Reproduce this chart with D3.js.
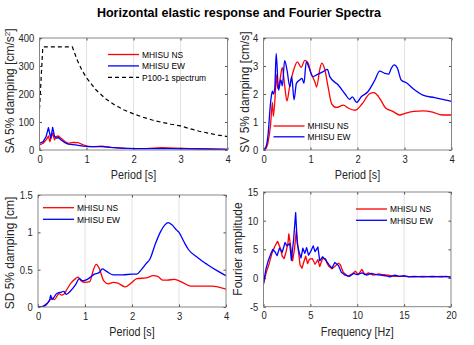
<!DOCTYPE html>
<html><head><meta charset="utf-8">
<script src="https://cdn.jsdelivr.net/npm/d3@7"></script>
<style>body{margin:0;background:#fff}svg{display:block}</style>
</head><body><svg id="c" width="474" height="345"></svg>
<script>
// ---------------- data ----------------
const titleText = "Horizontal elastic response and Fourier Spectra";
const seriesNames = ["MHISU NS", "MHISU EW", "P100-1 spectrum"];

const periodTicks = [0, 1, 2, 3, 4];
const freqTicks = [0, 5, 10, 15, 20];
const saTicks = [0, 100, 200, 300, 400];
const svTicks = [0, 1, 2, 3, 4];
const sdTicks = [0, 0.5, 1, 1.5];
const faTicks = [-5, 0, 5, 10, 15];

// SA [cm/s^2]
const saNS_T = [0,0.08,0.15,0.19,0.22,0.26,0.28,0.32,0.35,0.4,0.46,0.54,0.61,0.72,0.83,0.93,1.04,1.18,1.32,1.54,1.82,2.25,2.6,2.88,3.24,3.59,4.0];
const saNS   = [18,24,38,50,30,50,60,36,48,50,42,30,24,27,26,18,12,12,14,9.5,6,5,8,7,5,3.5,2.5];
const saEW_T = [0,0.08,0.14,0.19,0.24,0.28,0.32,0.37,0.4,0.46,0.54,0.61,0.76,0.93,1.11,1.32,1.5,1.75,2.03,2.74,3.45,4.0];
const saEW   = [24,30,48,80,42,81,48,42,45,36,26,21,18,14,12,12,9.5,7,5,5,3.5,2.4];
const p100_T = [0,0.07,0.7,0.8,0.9,1.0,1.2,1.4,1.6,1.8,2.0,2.2,2.4,2.6,2.8,3.0,3.2,3.4,3.6,3.8,4.0];
const p100   = [147,368,368,322,286,258,215,184,161,143,129,117,107,99,92,86,76,67,60,53,48];

// SV [cm/s]
const svNS_T = [0,0.05,0.1,0.15,0.19,0.21,0.25,0.27,0.3,0.35,0.4,0.45,0.5,0.55,0.6,0.65,0.72,0.8,0.88,0.95,1.0,1.1,1.13,1.2,1.24,1.3,1.38,1.45,1.55,1.7,1.8,1.95,2.1,2.25,2.35,2.45,2.6,2.75,2.9,3.0,3.2,3.4,3.6,3.8,4.0];
const svNS   = [0,0.05,0.3,0.9,1.7,1.2,2.0,2.7,2.2,2.5,2.95,2.3,1.75,2.2,2.6,2.9,3.15,2.95,3.2,3.1,2.8,2.4,2.25,2.9,3.1,2.9,2.2,1.65,1.52,1.6,1.5,1.42,1.65,2.0,2.05,1.9,1.5,1.38,1.25,1.3,1.38,1.4,1.35,1.25,1.25];
const svEW_T = [0,0.05,0.1,0.14,0.17,0.19,0.21,0.24,0.27,0.32,0.37,0.4,0.45,0.5,0.56,0.6,0.65,0.7,0.77,0.82,0.86,0.91,0.96,1.05,1.15,1.27,1.36,1.41,1.59,1.74,1.83,1.89,1.98,2.08,2.22,2.37,2.47,2.58,2.66,2.72,2.78,2.85,2.93,3.04,3.22,3.39,3.64,4.0];
const svEW   = [0,0.1,0.6,1.5,1.96,2.1,2.0,2.2,3.45,2.14,2.5,2.29,3.19,2.86,2.26,2.62,1.79,2.38,2.5,2.56,2.38,3.15,2.98,2.62,2.7,2.8,2.88,2.62,2.32,1.99,1.81,1.9,1.7,1.9,2.08,2.5,2.82,2.74,2.71,2.92,3.04,2.92,2.5,2.4,2.14,1.96,1.87,1.74];

// SD [cm]
const sdNS_T = [0,0.1,0.2,0.3,0.35,0.45,0.5,0.55,0.6,0.7,0.8,0.85,0.92,1.0,1.1,1.18,1.24,1.3,1.4,1.5,1.6,1.7,1.85,2.0,2.1,2.3,2.45,2.55,2.65,2.75,2.9,3.0,3.1,3.25,3.5,3.7,4.0];
const sdNS   = [0,0,0.05,0.12,0.1,0.18,0.16,0.17,0.22,0.32,0.38,0.4,0.35,0.33,0.34,0.5,0.57,0.52,0.35,0.31,0.33,0.32,0.27,0.33,0.38,0.39,0.42,0.41,0.36,0.36,0.37,0.35,0.32,0.28,0.28,0.28,0.24];
const sdEW_T = [0,0.1,0.2,0.25,0.27,0.3,0.35,0.4,0.5,0.55,0.6,0.7,0.8,0.88,0.95,1.05,1.2,1.3,1.37,1.45,1.6,1.8,2.0,2.1,2.2,2.3,2.38,2.5,2.6,2.7,2.77,2.85,2.95,3.0,3.1,3.2,3.4,3.6,3.8,4.0];
const sdEW   = [0,0.01,0.05,0.1,0.16,0.1,0.14,0.18,0.2,0.21,0.17,0.22,0.3,0.38,0.35,0.37,0.44,0.46,0.51,0.48,0.43,0.43,0.44,0.44,0.5,0.58,0.64,0.85,1.0,1.1,1.13,1.1,1.03,1.0,0.88,0.77,0.66,0.57,0.49,0.42];

// Fourier amplitude
const faNS_f = [0,0.3,0.6,0.9,1.2,1.5,1.8,2.0,2.2,2.4,2.6,2.7,2.9,3.1,3.3,3.5,3.7,3.9,4.1,4.3,4.5,4.7,4.9,5.2,5.5,5.8,6.0,6.3,6.6,6.8,7.0,7.3,7.6,8.0,8.2,8.5,9.0,9.5,9.8,10.1,10.5,10.8,11.2,11.7,12.2,12.7,13.3,14,15,16,17,18,19,20];
const faNS   = [-1,1,2.5,4.3,5.5,6.4,5.2,3.8,3.4,4.5,6.0,7.7,5.5,3.0,5,8.2,5,2.3,1.7,2.8,3.8,2.5,3.3,3.4,2.4,3.2,2.0,3.4,3.4,2.5,2.0,1.6,2.0,2.6,2.3,1.0,0.3,0.8,1.2,0.6,1.5,0.6,0.9,0.5,0.7,0.6,0.5,0.3,0.3,0.2,0.3,0.2,0.3,0.2];
const faEW_f = [0,0.25,0.5,0.8,1.0,1.25,1.45,1.7,2.0,2.3,2.5,2.8,2.97,3.2,3.43,3.6,3.8,4.0,4.2,4.4,4.6,4.8,5.0,5.3,5.5,5.8,6.0,6.3,6.6,7.0,7.3,7.6,8.0,8.3,8.7,9.2,9.6,10,10.5,11,11.5,12,12.5,13,13.5,14,14.5,15,15.5,16,17,18,19,19.5,20];
const faEW   = [-1,1.5,3,4.3,5,4.5,3.9,5.2,4.5,6.2,5.6,6.0,3.1,6.5,11.4,6,4.5,3.5,5.2,4.3,5.3,4.0,4.5,5.6,4.6,5.4,3.0,3.7,3.2,2.3,1.7,2.7,2.2,1.0,0.5,0.3,0.8,0.6,0.9,0.5,0.8,0.6,0.5,0.4,0.2,0.5,0.3,0.4,0.2,0.3,0.2,0.3,0.2,0.3,0.1];

// ---------------- drawing ----------------
const FONT = "'Liberation Sans', Arial, Helvetica, sans-serif";
const SQ = 0.86;            // horizontal text compression seen in the reference
const RED = "#ff0000", BLUE = "#0000ff", TXT = "#262626";
const svg = d3.select("#c");

svg.append("text")
  .attr("x", 239).attr("y", 17).attr("text-anchor", "middle")
  .attr("font-family", FONT).attr("font-size", 12.5).attr("font-weight", "bold")
  .attr("fill", "#000").text(titleText);

function panel(cfg) {
  const { l, r, t, b } = cfg.box;
  const x = d3.scaleLinear().domain(cfg.xDomain).range([l, r]);
  const y = d3.scaleLinear().domain(cfg.yDomain).range([b, t]);
  const g = svg.append("g");
  const fmt = d => String(d);

  // vertical grid
  g.append("g").selectAll("line")
    .data(cfg.xTicks.filter(d => d > cfg.xDomain[0] && d < cfg.xDomain[1]))
    .join("line")
    .attr("x1", d => x(d)).attr("x2", d => x(d)).attr("y1", t).attr("y2", b)
    .attr("stroke", "#e2e2e2").attr("stroke-width", 1);

  // clip
  const cid = "clip" + cfg.id;
  svg.append("clipPath").attr("id", cid).append("rect")
    .attr("x", l).attr("y", t).attr("width", r - l).attr("height", b - t);

  // series
  const data = g.append("g").attr("clip-path", `url(#${cid})`);
  cfg.series.forEach(s => {
    const pts = d3.zip(s.x, s.y);
    data.append("path").datum(pts)
      .attr("fill", "none").attr("stroke", s.color)
      .attr("stroke-width", s.width || 1.3)
      .attr("stroke-linejoin", "round")
      .attr("stroke-dasharray", s.dash || null)
      .attr("d", d3.line().x(d => x(d[0])).y(d => y(d[1])).curve(s.curve || d3.curveLinear));
  });

  // axes
  const ax = (gen, tr) => {
    const a = g.append("g").attr("transform", tr).call(gen);
    a.select(".domain").remove();
    a.selectAll(".tick line").attr("stroke", TXT).attr("stroke-width", 0.8);
    a.selectAll("text").attr("font-family", FONT).attr("font-size", 11).attr("fill", TXT)
      .attr("transform", `scale(${SQ},1)`);
    return a;
  };
  ax(d3.axisBottom(x).tickValues(cfg.xTicks).tickFormat(fmt).tickSizeInner(-2.5).tickSizeOuter(0).tickPadding(5), `translate(0,${b})`);
  ax(d3.axisTop(x).tickValues(cfg.xTicks).tickFormat("").tickSizeInner(-2.5).tickSizeOuter(0), `translate(0,${t})`);
  ax(d3.axisLeft(y).tickValues(cfg.yTicks).tickFormat(fmt).tickSizeInner(-2.5).tickSizeOuter(0).tickPadding(6), `translate(${l},0)`);
  ax(d3.axisRight(y).tickValues(cfg.yTicks).tickFormat("").tickSizeInner(-2.5).tickSizeOuter(0), `translate(${r},0)`);

  // box
  g.append("rect").attr("x", l).attr("y", t).attr("width", r - l).attr("height", b - t)
    .attr("fill", "none").attr("stroke", "#7a7a7a").attr("stroke-width", 0.9);

  // x label
  g.append("text")
    .attr("transform", `translate(${(l + r) / 2},${cfg.xLabelY}) scale(${SQ},1)`)
    .attr("text-anchor", "middle").attr("font-family", FONT).attr("font-size", 12.5)
    .attr("fill", TXT).text(cfg.xLabel);

  // y label
  const yl = g.append("text")
    .attr("transform", `translate(${cfg.yLabelX},${cfg.yLabelY}) rotate(-90)`)
    .attr("text-anchor", "middle").attr("font-family", FONT).attr("font-size", 12)
    .attr("fill", TXT);
  yl.append("tspan").text(cfg.yLabel);
  if (cfg.yLabelSup) {
    yl.append("tspan").attr("baseline-shift", "super").attr("font-size", 8).text(cfg.yLabelSup);
    yl.append("tspan").text(cfg.yLabelEnd);
  }

  // legend
  const lg = g.append("g");
  cfg.legend.items.forEach((it, i) => {
    const yy = cfg.legend.y + i * cfg.legend.dy;
    lg.append("line").attr("x1", cfg.legend.x).attr("x2", cfg.legend.x + 31)
      .attr("y1", yy).attr("y2", yy).attr("stroke", it.color)
      .attr("stroke-width", it.width || 1.3).attr("stroke-dasharray", it.dash || null);
    lg.append("text")
      .attr("transform", `translate(${cfg.legend.x + 34},${yy}) scale(${SQ},1)`)
      .attr("dy", "0.35em").attr("font-family", FONT).attr("font-size", 9.8)
      .attr("fill", "#000").text(it.name);
  });
}

const nsItem = { name: seriesNames[0], color: RED };
const ewItem = { name: seriesNames[1], color: BLUE };

panel({
  id: 1, box: { l: 39.5, r: 227.5, t: 38, b: 150 },
  xDomain: [0, 4], yDomain: [0, 400], xTicks: periodTicks, yTicks: saTicks,
  series: [
    { x: p100_T, y: p100, color: "#000", dash: "4,3", width: 1.2 },
    { x: saNS_T, y: saNS, color: RED },
    { x: saEW_T, y: saEW, color: BLUE }
  ],
  xLabel: "Period [s]", xLabelY: 179,
  yLabel: "SA 5% damping [cm/s", yLabelSup: "2", yLabelEnd: "]", yLabelX: 14, yLabelY: 91,
  legend: { x: 108, y: 54.5, dy: 11.4, items: [nsItem, ewItem, { name: seriesNames[2], color: "#000", dash: "4,3", width: 1.2 }] }
});

panel({
  id: 2, box: { l: 263.5, r: 451.5, t: 38, b: 150 },
  xDomain: [0, 4], yDomain: [0, 4], xTicks: periodTicks, yTicks: svTicks,
  series: [
    { x: svNS_T, y: svNS, color: RED, curve: d3.curveMonotoneX },
    { x: svEW_T, y: svEW, color: BLUE, curve: d3.curveMonotoneX }
  ],
  xLabel: "Period [s]", xLabelY: 179,
  yLabel: "SV 5% damping [cm/s]", yLabelX: 249, yLabelY: 92,
  legend: { x: 273.5, y: 126, dy: 10.8, items: [nsItem, ewItem] }
});

panel({
  id: 3, box: { l: 38, r: 226, t: 195, b: 307 },
  xDomain: [0, 4], yDomain: [0, 1.5], xTicks: periodTicks, yTicks: sdTicks,
  series: [
    { x: sdNS_T, y: sdNS, color: RED, curve: d3.curveMonotoneX },
    { x: sdEW_T, y: sdEW, color: BLUE, curve: d3.curveMonotoneX }
  ],
  xLabel: "Period [s]", xLabelY: 336,
  yLabel: "SD 5% damping [cm]", yLabelX: 14, yLabelY: 253,
  legend: { x: 43, y: 207.7, dy: 11.6, items: [nsItem, ewItem] }
});

panel({
  id: 4, box: { l: 263.5, r: 451, t: 192, b: 306.7 },
  xDomain: [0, 20], yDomain: [-5, 15], xTicks: freqTicks, yTicks: faTicks,
  series: [
    { x: faNS_f, y: faNS, color: RED },
    { x: faEW_f, y: faEW, color: BLUE }
  ],
  xLabel: "Frequency [Hz]", xLabelY: 336,
  yLabel: "Fourier amplitude", yLabelX: 242, yLabelY: 249,
  legend: { x: 356, y: 209, dy: 11.3, items: [nsItem, ewItem] }
});
</script>
</body></html>
